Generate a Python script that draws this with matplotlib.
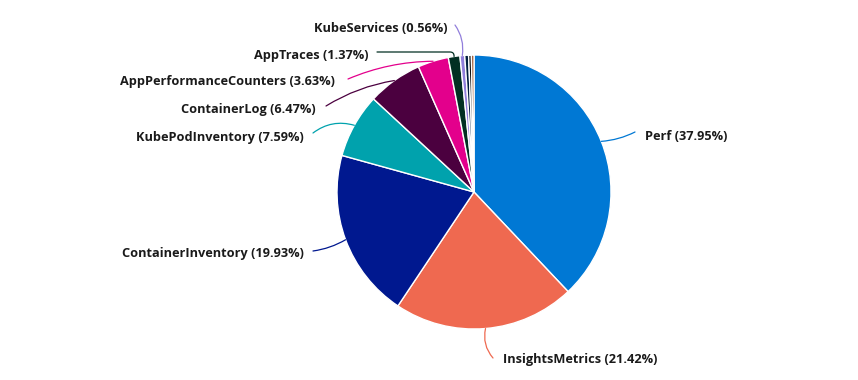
import numpy as np
import matplotlib
matplotlib.use("Agg")
import matplotlib.pyplot as plt

# slices, clockwise from the top
names = ["Perf", "InsightsMetrics", "ContainerInventory", "KubePodInventory",
         "ContainerLog", "AppPerformanceCounters", "AppTraces", "KubeServices",
         "Other1", "Other2", "Other3"]
shares = [37.95, 21.42, 19.93, 7.59, 6.47, 3.63, 1.37, 0.56, 0.45, 0.33, 0.30]
colors = ["#0078d4", "#ef6950", "#00188f", "#00a2ad", "#4b003f", "#e3008c",
          "#022f22", "#917edb", "#001d3f", "#111111", "#94451a"]
labelled = 8

plt.rcParams['font.family'] = ['Open Sans', 'DejaVu Sans']

W, H = 858, 380
fig = plt.figure(figsize=(W / 100, H / 100), dpi=100)
ax = fig.add_axes([0, 0, 1, 1])

cx, cy, r = 474, H - 192, 137
wedges, _ = ax.pie(shares, colors=colors, startangle=90, counterclock=False,
                   center=(cx, cy), radius=r, frame=True,
                   wedgeprops=dict(edgecolor='white', linewidth=1))
ax.set_xlim(0, W)
ax.set_ylim(0, H)
ax.set_aspect('equal')
ax.axis('off')

# label text anchor (pixel coords, y from top), alignment, leader end, curve
lab_pos = [
    (645, 136, 'left', (635, 132), "arc3,rad=0.1"),
    (503, 360, 'left', (493, 358), "arc3,rad=0.25"),
    (304, 253, 'right', (313, 251), "arc3,rad=-0.1"),
    (304, 137, 'right', (313, 133), "arc3,rad=0.25"),
    (316, 110, 'right', (326, 106), "arc3,rad=0.1"),
    (335, 82, 'right', (348, 79), "arc3,rad=0.1"),
    (368, 55, 'right', (377, 52), "angle,angleA=90,angleB=0,rad=4"),
    (448, 28, 'right', (455, 25), "arc3,rad=0.2"),
]

for i in range(labelled):
    w = wedges[i]
    mid = np.deg2rad((w.theta1 + w.theta2) / 2)
    sx, sy = cx + r * np.cos(mid), cy + r * np.sin(mid)
    tx, ty, ha, (ex, ey), cs = lab_pos[i]
    ax.annotate("", xy=(ex, H - ey), xytext=(sx, sy),
                arrowprops=dict(arrowstyle='-', color=colors[i], lw=0.9,
                                shrinkA=0, shrinkB=0, connectionstyle=cs))
    ax.text(tx, H - ty, "%s (%.2f%%)" % (names[i], shares[i]), ha=ha, va='center',
            fontsize=9.2, fontweight='bold', color='#1a1a1a')

fig.savefig("out.png", dpi=100)
